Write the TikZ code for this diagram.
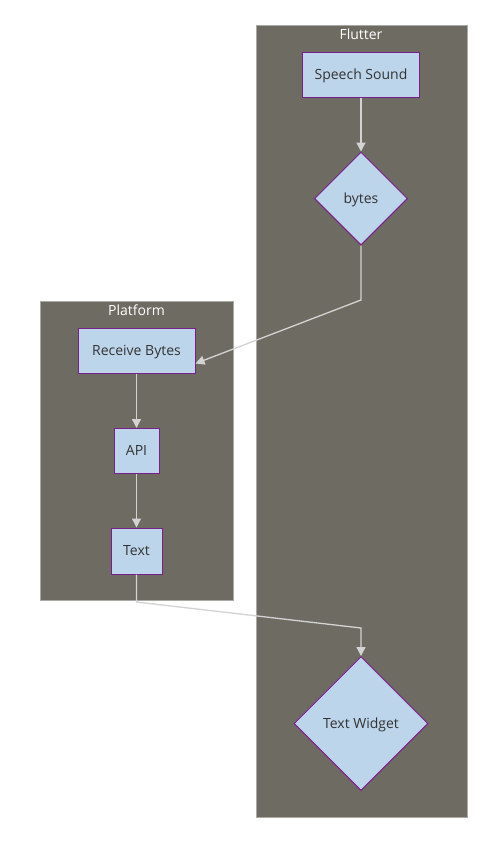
\documentclass[tikz,border=0pt]{standalone}
\usepackage{fontspec}
\setmainfont{Open Sans}
\usetikzlibrary{shapes.geometric,arrows.meta}
\definecolor{clusterfill}{HTML}{6E6B62}
\definecolor{nodefill}{HTML}{BDD5EA}
\definecolor{nodeborder}{HTML}{7B1E8C}
\definecolor{edgecol}{HTML}{D3D3D3}
\definecolor{textcol}{HTML}{333333}
\tikzset{
  cluster/.style={fill=clusterfill, draw=edgecol!60!clusterfill, line width=0.6pt},
  ctitle/.style={text=white, font=\fontsize{14}{16}\selectfont, inner sep=0pt, text height=1.1em, text depth=0.186em},
  nodebase/.style={draw=nodeborder, fill=nodefill, line width=1pt, text=textcol, font=\fontsize{14}{16}\selectfont, inner sep=0pt, text height=1.1em, text depth=0.186em},
  boxnode/.style={nodebase, rectangle},
  dia/.style={nodebase, diamond, aspect=1},
  conn/.style={draw=edgecol, line width=1.3pt, -{Triangle[length=9pt,width=9pt]}},
}
\begin{document}
\begin{tikzpicture}[x=1pt,y=-1pt]
\useasboundingbox (0,0) rectangle (501,844);
\fill[white] (0,0) rectangle (501,844);
% clusters
\draw[cluster] (256,25) rectangle (467,817);
\node[ctitle] (tflutter) at (361,35) {Flutter};
\draw[cluster] (40,301) rectangle (233,600);
\node[ctitle] (tplatform) at (136.5,311) {Platform};
% nodes
\node[boxnode, minimum width=117pt, minimum height=45pt] (speech) at (361,74.5) {Speech Sound};
\node[dia, minimum width=93pt, minimum height=93pt] (bytes) at (361,198.5) {bytes};
\node[boxnode, minimum width=117pt, minimum height=45pt] (recv) at (136.5,350.5) {Receive Bytes};
\node[boxnode, minimum width=45pt, minimum height=45pt] (api) at (136.5,451) {API};
\node[boxnode, minimum width=51pt, minimum height=46pt] (text) at (136.5,551) {Text};
\node[dia, minimum width=134pt, minimum height=134pt] (tw) at (361,723.5) {Text Widget};
% edges
\coordinate (b1) at (361,300);
\coordinate (t1) at (136.5,602);
\coordinate (t2) at (361,628);
\draw[conn] (speech.south) -- (bytes.north);
\draw[conn] (bytes.south) -- (b1) -- ([yshift=-13pt]recv.east);
\draw[conn] (recv.south) -- (api.north);
\draw[conn] (api.south) -- (text.north);
\draw[conn] (text.south) -- (t1) -- (t2) -- (tw.north);
\end{tikzpicture}
\end{document}
